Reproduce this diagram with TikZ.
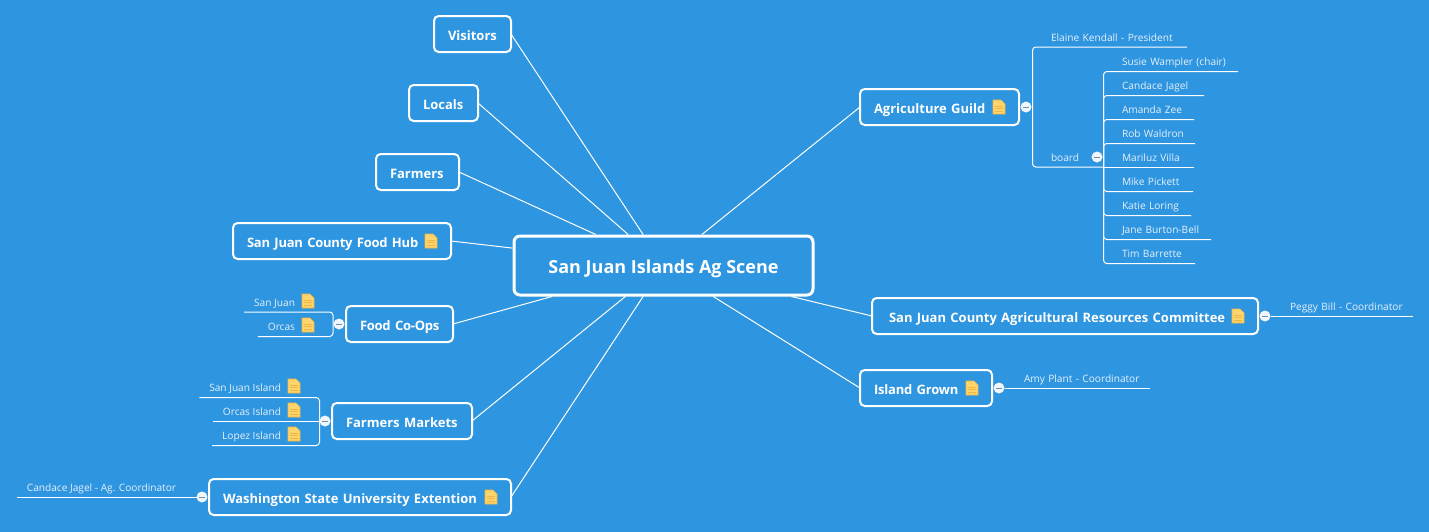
\documentclass[tikz,border=0pt]{standalone}
\usepackage{fontspec}
\setmainfont{Open Sans}
\definecolor{mapblue}{HTML}{2E95E0}
\definecolor{notefill}{HTML}{FDD46E}
\definecolor{noteedge}{HTML}{F4B63F}
\definecolor{leaftext}{HTML}{E6F1FB}
\definecolor{togglefill}{HTML}{F0F6FC}
\definecolor{togglemark}{HTML}{6F8FAF}
\tikzset{
  rootbox/.style={draw=white, line width=2.25pt, rounded corners=4.5pt, text=white,
    minimum width=224.25pt, minimum height=44.25pt, text height=11.7pt, text depth=0pt,
    font=\bfseries\fontsize{13.5pt}{16pt}\selectfont},
  topic/.style={draw=white, line width=1.5pt, rounded corners=3.5pt, text=white, anchor=west,
    text width=#1*0.75pt, inner xsep=10.5pt, minimum height=27pt, outer sep=0pt,
    text height=9pt, text depth=0pt, font=\bfseries\fontsize{9.75pt}{12pt}\selectfont},
  leaf/.style={anchor=south west, text=leaftext, text width=#1*0.75pt, inner xsep=0pt, inner ysep=0pt,
    minimum height=15pt, outer sep=0pt, text height=6pt, text depth=0pt,
    font=\fontsize{7.6pt}{9pt}\selectfont},
  leftleaf/.style={anchor=south east, text=leaftext, inner xsep=7.5pt,
    inner ysep=0pt, minimum height=15pt, outer sep=0pt, text height=6pt, text depth=0pt,
    font=\fontsize{7.6pt}{9pt}\selectfont},
  toggle/.style={circle, fill=togglefill, minimum size=8.25pt, inner sep=0pt, outer sep=0pt,
    path picture={\draw[togglemark, line width=0.75pt] (path picture bounding box.center) ++(-3,0) -- ++(6,0);}},
  spoke/.style={draw=white, line width=0.75pt},
  branch/.style={draw=white, line width=0.75pt, rounded corners=2.5pt},
  noteicon/.pic={
    \filldraw[fill=notefill, draw=noteedge, line width=0.5pt]
      (-6,-7) -- (2,-7) -- (6,-3) -- (6,7) -- (-6,7) -- cycle;
    \draw[noteedge, line width=0.6pt] (-4,-1) -- (4,-1) (-4,1.5) -- (4,1.5) (-4,4) -- (4,4);
  }
}
\begin{document}
\begin{tikzpicture}[x=0.75pt, y=-0.75pt]
  \fill[mapblue] (0,0) rectangle (1429,532);
  \useasboundingbox (0,0) rectangle (1429,532);

  % centre
  \node[rootbox] (root) at (663.5,265.5) {San Juan Islands Ag Scene};

  % left side
  \node[topic=49] (visitors) at (434,34) {Visitors};
  \node[topic=41] (locals) at (409,103) {Locals};
  \node[topic=55] (farmers) at (376,172) {Farmers};
  \node[topic=190] (foodhub) at (233,241) {\addfontfeatures{LetterSpace=-1.8}San Juan County Food Hub};
  \node[topic=79] (coops) at (346,324) {\mbox{\addfontfeatures{LetterSpace=-2}Food Co-Ops}};
  \node[topic=112] (markets) at (332,421) {Farmers Markets};
  \node[topic=274] (wsu) at (209,497) {Washington State University Extention};

  % right side
  \node[topic=131] (guild) at (860,107) {Agriculture Guild};
  \node[topic=352, inner xsep=12.75pt] (sjcarc) at (872,316) {San Juan County Agricultural Resources Committee};
  \node[topic=104] (grown) at (860,388) {\addfontfeatures{LetterSpace=-1.5}Island Grown};

  \foreach \n in {visitors,locals,farmers,foodhub,coops,markets,wsu}
    \draw[spoke] (root) -- (\n.east);
  \foreach \n in {guild,sjcarc,grown}
    \draw[spoke] (root) -- (\n.west);

  % toggles
  \node[toggle] (coopstog) at (339,324) {};
  \node[toggle] (marketstog) at (325,421) {};
  \node[toggle] (wsutog) at (202,497) {};
  \node[toggle] (guildtog) at (1026,107) {};
  \node[toggle] (boardtog) at (1097,157) {};
  \node[toggle] (sjcarctog) at (1265,316) {};
  \node[toggle] (growntog) at (999,388) {};

  % food co-ops
  \node[leftleaf] (sanjuan) at (305,312) {San Juan};
  \node[leftleaf] (orcas) at (305,336.5) {Orcas};
  \coordinate (coopsbr) at (333,324);
  \draw[branch] (sanjuan.south west) -| (coopsbr) |- (orcas.south west);

  % farmers markets
  \node[leftleaf] (sjisland) at (291,397.5) {San Juan Island};
  \node[leftleaf] (orisland) at (291,421.5) {Orcas Island};
  \node[leftleaf] (loisland) at (291,445.5) {Lopez Island};
  \coordinate (marketsbr) at (319.5,421.5);
  \draw[branch] (sjisland.south west) -| (marketsbr) |- (loisland.south west);
  \draw[spoke] (orisland.south west) -- (marketsbr);

  % wsu
  \node[leftleaf] (cjagel) at (186,497) {Candace Jagel - Ag. Coordinator};
  \draw[spoke] (cjagel.south west) -- (wsutog);

  % guild
  \node[leaf=136] (elaine) at (1051,47) {Elaine Kendall - President};
  \node[leaf=52.5] (board) at (1051,167) {board};
  \coordinate (guildbr) at (1032.5,107);
  \draw[branch] (elaine.south east) -- (elaine.south west) -| (guildbr) |- (board.south east);

  \node[leaf=116] (susie) at (1122,71.5) {Susie Wampler (chair)};
  \node[leaf=82] (candace) at (1122,95.5) {Candace Jagel};
  \node[leaf=72] (amanda) at (1122,119.5) {Amanda Zee};
  \node[leaf=73] (rob) at (1122,143.5) {Rob Waldron};
  \node[leaf=72] (mariluz) at (1122,167) {Mariluz Villa};
  \node[leaf=71] (mike) at (1122,191.5) {Mike Pickett};
  \node[leaf=69] (katie) at (1122,215.5) {Katie Loring};
  \node[leaf=89] (jane) at (1122,239.5) {Jane Burton-Bell};
  \node[leaf=73] (tim) at (1122,263.5) {Tim Barrette};
  \coordinate (boardbr) at (1103.5,167);
  \foreach \n in {susie,candace,amanda,rob,mike,katie,jane,tim}
    \draw[branch] (\n.south east) -| (boardbr);
  \draw[spoke] (mariluz.south east) -- (boardbr);

  % committee, island grown
  \node[leaf=123] (peggy) at (1290,316) {Peggy Bill - Coordinator};
  \draw[spoke] (peggy.south east) -- (sjcarctog);
  \node[leaf=126] (amy) at (1024,388) {Amy Plant - Coordinator};
  \draw[spoke] (amy.south east) -- (growntog);

  % notes
  \foreach \p in {(431,241),(491,497),(999,107),(1238,316),(972,388),(308,301),(308,325),(294,386),(294,410),(294,434)}
    \pic at \p {noteicon};
\end{tikzpicture}
\end{document}
